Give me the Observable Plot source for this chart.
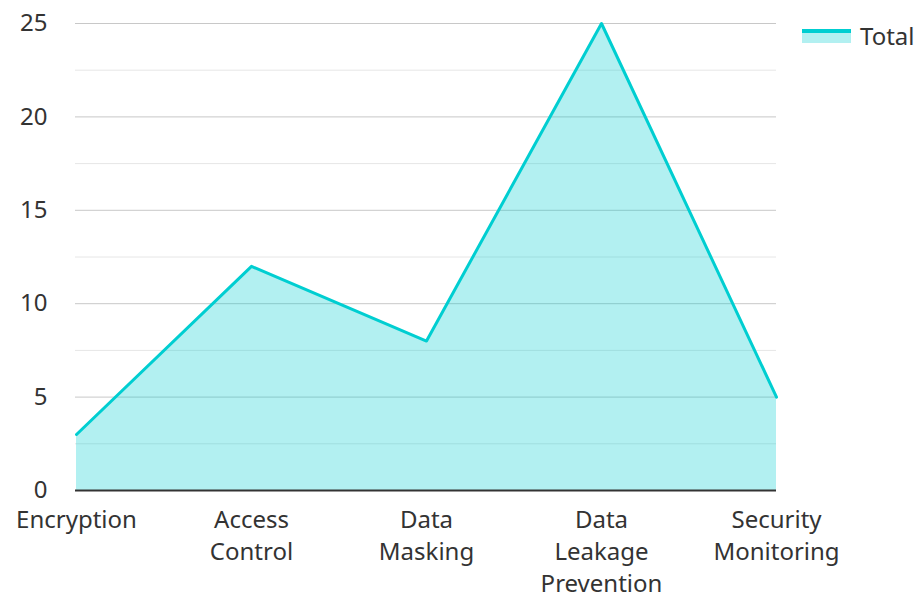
<!DOCTYPE html>
<html>
<head>
<meta charset="utf-8">
<script src="https://cdn.jsdelivr.net/npm/d3@7"></script>
<script src="https://cdn.jsdelivr.net/npm/@observablehq/plot@0.6"></script>
<style>
  body { margin: 0; background: #fff; font-family: "Noto Sans", sans-serif; }
  #wrap { position: relative; width: 917px; height: 594px; }
  #legend { position: absolute; left: 802px; top: 19px; display: flex; align-items: center; font-size: 24px; color: #333; }
  #legend .sw { width: 49px; height: 14px; background: #b2f0f1; border-top: 4px solid #00CED1; box-sizing: border-box; margin-right: 9px; }
</style>
</head>
<body>
<div id="wrap">
  <div id="chart"></div>
  <div id="legend"><div class="sw"></div><span>Total</span></div>
</div>
<script>
const categories = ["Encryption", "Access Control", "Data Masking", "Data Leakage Prevention", "Security Monitoring"];
const tickLabels = ["Encryption", "Access\nControl", "Data\nMasking", "Data\nLeakage\nPrevention", "Security\nMonitoring"];
const totals = [3, 12, 8, 25, 5];
const yMajorTicks = [0, 5, 10, 15, 20, 25];
const yMinorTicks = [2.5, 7.5, 12.5, 17.5, 22.5];

const data = categories.map((c, i) => ({category: c, total: totals[i]}));
const labelOf = new Map(categories.map((c, i) => [c, tickLabels[i]]));

const chart = Plot.plot({
  width: 917,
  height: 594,
  marginLeft: 75,
  marginRight: 141,
  marginTop: 23,
  marginBottom: 104,
  style: {fontFamily: "Noto Sans, sans-serif", fontSize: "24px", color: "#333", background: "#fff"},
  x: {type: "point", domain: categories, padding: 0, label: null},
  y: {domain: [0, 25], label: null},
  marks: [
    Plot.ruleY(yMinorTicks, {stroke: "#e6e6e6", strokeWidth: 1}),
    Plot.ruleY(yMajorTicks.filter(d => d > 0), {stroke: "#c8c8c8", strokeWidth: 1}),
    Plot.areaY(data, {x: "category", y: "total", fill: "#00CED1", fillOpacity: 0.3}),
    Plot.lineY(data, {x: "category", y: "total", stroke: "#00CED1", strokeWidth: 3}),
    Plot.ruleY([0], {stroke: "#333", strokeWidth: 2}),
    Plot.axisY({ticks: yMajorTicks, tickSize: 0, tickPadding: 28, fontSize: 24, fill: "#333", label: null}),
    Plot.axisX({tickSize: 0, tickPadding: 14, fontSize: 24, fill: "#333", lineHeight: 1.35, tickFormat: d => labelOf.get(d), label: null})
  ]
});
document.getElementById("chart").appendChild(chart);
</script>
</body>
</html>
